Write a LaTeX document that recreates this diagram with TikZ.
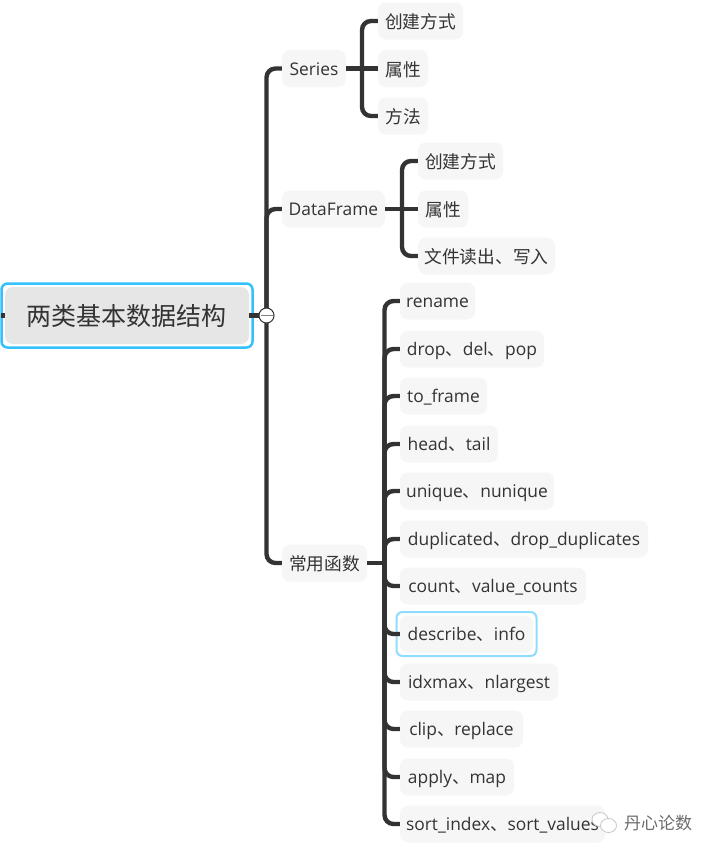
\documentclass[tikz,border=0pt]{standalone}
\usepackage{fontspec}
\usetikzlibrary{shapes.geometric}
\setmainfont{Open Sans}
\newfontfamily\cjk{Noto Sans CJK SC}
\newcommand{\dun}{{\cjk 、}}
\definecolor{ink}{HTML}{333333}
\definecolor{boxfill}{HTML}{F6F6F6}
\definecolor{rootfill}{HTML}{E6E6E6}
\definecolor{rootedge}{HTML}{35C1FF}
\definecolor{seledge}{HTML}{8FDCFF}
\tikzset{
  leaf/.style={fill=boxfill,rounded corners=8pt,minimum height=37pt,inner sep=0pt,text=ink,text height=15pt,text depth=2pt,font=\fontsize{17.4}{20}\selectfont},
  cn/.style={leaf,text height=16.5pt,text depth=1.5pt,font=\fontsize{17.7}{20}\selectfont\cjk},
  conn/.style={draw=ink,line width=4.4pt,rounded corners=9pt},
  stub/.style={draw=ink,line width=4.4pt},
}
\begin{document}
\begin{tikzpicture}[x=1pt,y=-1pt]
\useasboundingbox (0,0) rectangle (714,854);
\fill[white] (0,0) rectangle (714,854);
% root
\node[draw=rootedge,line width=2.5pt,rounded corners=6pt,minimum width=251pt,minimum height=64pt,inner sep=0pt] (rootframe) at (127,315.5) {};
\node[fill=rootfill,rounded corners=8pt,minimum width=244pt,minimum height=57pt,inner sep=0pt,text=ink,text height=23pt,text depth=2.5pt,font=\fontsize{25}{28}\selectfont\cjk] (root) at (127,315.5) {两类基本数据结构};
% level 1
\node[leaf,minimum width=64pt] (series) at (314,68.5) {Series};
\node[leaf,minimum width=103pt] (df) at (333.5,209) {DataFrame};
\node[cn,minimum width=85pt] (funcs) at (324.5,563) {常用函数};
% series children
\node[cn,minimum width=85pt] (s1) at (420.5,21) {创建方式};
\node[cn,minimum width=50pt] (s2) at (403,68.5) {属性};
\node[cn,minimum width=50pt] (s3) at (403,116) {方法};
% dataframe children
\node[cn,minimum width=85pt] (d1) at (460.5,161) {创建方式};
\node[cn,minimum width=50pt] (d2) at (443,209) {属性};
\node[cn,minimum width=137pt] (d3) at (486.5,256) {文件读出、写入};
% function list
\node[leaf,minimum width=75pt] (f1) at (437.5,301) {rename};
\node[leaf,minimum width=144pt] (f2) at (472,349) {drop\dun del\dun pop};
\node[leaf,minimum width=87pt] (f3) at (443.5,396) {to\_frame};
\node[leaf,minimum width=98pt] (f4) at (449,444) {head\dun tail};
\node[leaf,minimum width=154pt] (f5) at (477,491) {unique\dun nunique};
\node[leaf,minimum width=248pt] (f6) at (524,539) {duplicated\dun drop\_duplicates};
\node[leaf,minimum width=186pt] (f7) at (493,586) {count\dun value\_counts};
\node[draw=seledge,line width=2pt,rounded corners=6pt,minimum width=140pt,minimum height=44pt,inner sep=0pt] (sel) at (466.5,634) {};
\node[leaf,minimum width=133pt] (f8) at (466.5,634) {describe\dun info};
\node[leaf,minimum width=158pt] (f9) at (479,682) {idxmax\dun nlargest};
\node[leaf,minimum width=123pt] (f10) at (461.5,729) {clip\dun replace};
\node[leaf,minimum width=114pt] (f11) at (457,777) {apply\dun map};
\node[leaf,minimum width=205pt] (f12) at (502.5,824) {sort\_index\dun sort\_values};
% hubs
\coordinate (hubr) at (266.5,315.5);
\coordinate (hubs) at (362,68.5);
\coordinate (hubd) at (402,209);
\coordinate (hubf) at (384.5,563);
\coordinate (rootstub) at (1,315.5);
% connectors
\draw[conn] (hubr) |- (series.west);
\draw[conn] (hubr) |- (df.west);
\draw[conn] (hubr) |- (funcs.west);
\draw[stub] (root.east) -- (hubr);
\draw[stub] (rootstub) -- (root.west);
\draw[stub] (series.east) -- (s2.west);
\draw[conn] (hubs) |- (s1.west);
\draw[conn] (hubs) |- (s3.west);
\draw[stub] (df.east) -- (d2.west);
\draw[conn] (hubd) |- (d1.west);
\draw[conn] (hubd) |- (d3.west);
\draw[stub] (funcs.east) -- (hubf);
\foreach \n in {f1,f2,f3,f4,f5,f6,f7,f8,f9,f10,f11,f12}{
  \draw[conn] (hubf) |- (\n.west);
}
% collapse marker
\node[circle,draw=ink,fill=white,line width=1pt,minimum size=15pt,inner sep=0pt] (collapse) at (hubr) {};
\draw[gray,line width=1pt] ([xshift=2pt]collapse.west) -- ([xshift=-2pt]collapse.east);
% watermark
\node[ellipse,draw=gray!45,fill=white,line width=.8pt,minimum width=16pt,minimum height=14pt,inner sep=0pt] (wa) at (600,819.5) {};
\node[ellipse,draw=gray!45,fill=white,line width=.8pt,minimum width=16pt,minimum height=14pt,inner sep=0pt] (wb) at (608.5,825.5) {};
\node[text=gray!85!black,font=\fontsize{17}{20}\selectfont\cjk,inner sep=0pt] (wm) at (658,823) {丹心论数};
\end{tikzpicture}
\end{document}
